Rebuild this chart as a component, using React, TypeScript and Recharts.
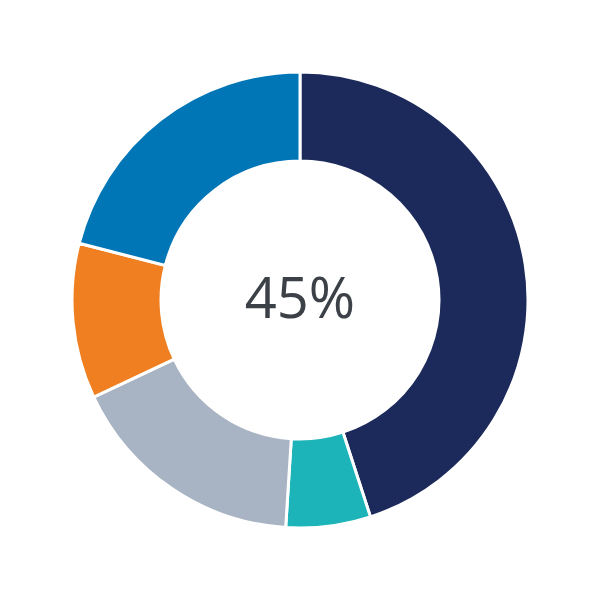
import React from 'react';
import { PieChart, Pie, Cell } from 'recharts';

const categories = ['A', 'B', 'C', 'D', 'E'];
const values = [45, 6, 17, 11, 21];
const colors = ['#1b2a5a', '#1cb4b8', '#a8b4c3', '#f07f21', '#0076b6'];
const centerLabel = '45%';

const data = categories.map((name, i) => ({ name, value: values[i] }));

export default function App() {
  return (
    <div style={{ margin: -8, width: 600, height: 600 }}>
      <PieChart width={600} height={600} margin={{ top: 0, right: 0, bottom: 0, left: 0 }}>
        <Pie
          data={data}
          dataKey="value"
          cx={300}
          cy={300}
          innerRadius={139}
          outerRadius={228}
          startAngle={90}
          endAngle={-270}
          stroke="#ffffff"
          strokeWidth={3}
          isAnimationActive={false}
        >
          {data.map((d, i) => (
            <Cell key={d.name} fill={colors[i]} />
          ))}
        </Pie>
        <text
          x={300}
          y={296}
          textAnchor="middle"
          dominantBaseline="central"
          fontFamily="'Open Sans', sans-serif"
          fontSize={56}
          fill="#3c4148"
        >
          {centerLabel}
        </text>
      </PieChart>
    </div>
  );
}
